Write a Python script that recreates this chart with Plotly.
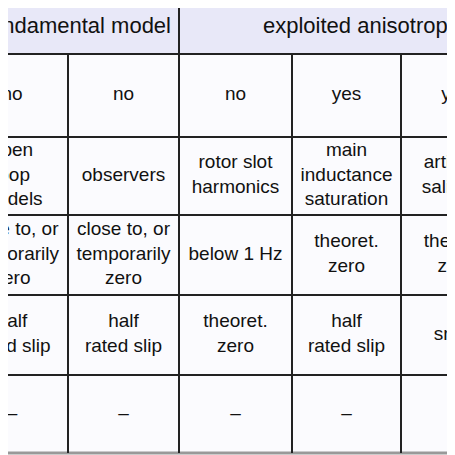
import plotly.graph_objects as go

header_texts = ["fundamental model", "exploited anisotropy"]
col_texts = [
    ["no", "open<br>loop<br>models", "close to, or<br>temporarily<br>zero", "half<br>rated slip", "–"],
    ["no", "observers", "close to, or<br>temporarily<br>zero", "half<br>rated slip", "–"],
    ["no", "rotor slot<br>harmonics", "below 1 Hz", "theoret.<br>zero", "–"],
    ["yes", "main<br>inductance<br>saturation", "theoret.<br>zero", "half<br>rated slip", "–"],
    ["yes", "artificial<br>saliency", "theoret.<br>zero", "small", "–"],
]

col_edges = [-44, 68, 179, 292, 401, 511]
row_edges = [1, 54, 137, 215, 295, 375, 453]

fig = go.Figure()
shapes = []
shapes.append(dict(type="rect", x0=-50, x1=520, y0=row_edges[0], y1=row_edges[1],
                   fillcolor="#e8e8f8", line_width=0, layer="below"))
shapes.append(dict(type="rect", x0=-50, x1=520, y0=row_edges[1], y1=row_edges[-1],
                   fillcolor="#fbfbfe", line_width=0, layer="below"))
dark = "#222"
for y in row_edges[:-1]:
    shapes.append(dict(type="line", x0=-50, x1=520, y0=y, y1=y, line=dict(color=dark, width=2)))
shapes.append(dict(type="line", x0=-50, x1=520, y0=row_edges[-1], y1=row_edges[-1],
                   line=dict(color="#999", width=3)))
for x in col_edges[1:-1]:
    y0 = row_edges[0] if x == 179 else row_edges[1]
    shapes.append(dict(type="line", x0=x, x1=x, y0=y0, y1=row_edges[-1], line=dict(color=dark, width=2)))

xs, ys, ts = [], [], []
for c, texts in enumerate(col_texts):
    cx = (col_edges[c] + col_edges[c + 1]) / 2
    for r, t in enumerate(texts):
        xs.append(cx)
        ys.append((row_edges[r + 1] + row_edges[r + 2]) / 2)
        ts.append(t)
fig.add_trace(go.Scatter(x=xs, y=ys, text=ts, mode="text", textposition="middle center",
                         textfont=dict(family="Liberation Sans", size=19, color="#111"),
                         cliponaxis=True, hoverinfo="skip"))
hy = (row_edges[0] + row_edges[1]) / 2
fig.add_trace(go.Scatter(x=[171, 263], y=[hy, hy], text=header_texts, mode="text",
                         textposition=["middle left", "middle right"],
                         textfont=dict(family="Liberation Sans", size=22, color="#111"),
                         cliponaxis=True, hoverinfo="skip"))

fig.update_layout(width=455, height=455, margin=dict(l=0, r=0, t=0, b=0),
                  showlegend=False, shapes=shapes, plot_bgcolor="white", paper_bgcolor="white",
                  xaxis=dict(range=[8, 463], visible=False, fixedrange=True),
                  yaxis=dict(range=[463, 8], visible=False, fixedrange=True))
fig.write_html("out.html")
